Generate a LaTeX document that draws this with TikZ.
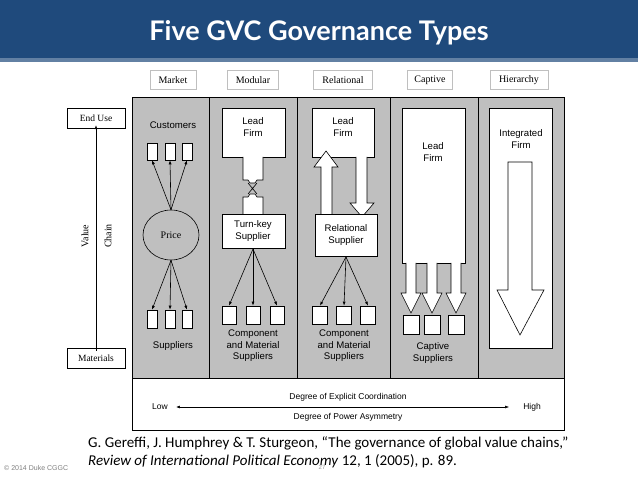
\documentclass[tikz,border=0pt]{standalone}
\usepackage{fontspec}
\setmainfont{Liberation Sans}
\newfontfamily\seriff{Liberation Serif}
\newfontfamily\titlef{Lato}
\newfontfamily\calib{Carlito}
\usetikzlibrary{arrows.meta,shapes.geometric}
\definecolor{tblue}{HTML}{1F4A7C}
\definecolor{panel}{HTML}{BFBFBF}
\begin{document}
\begin{tikzpicture}[x=1pt,y=-1pt,
  txt/.style={font=\fontsize{9.6}{11.5}\selectfont,align=center,inner sep=0pt},
  hdr/.style={draw=black!25,fill=white,font=\seriff\fontsize{10}{11}\selectfont,minimum height=19pt,inner sep=2pt},
  wbox/.style={draw=black,fill=white,line width=0.6pt},
  sq/.style={draw=black,fill=white,line width=0.6pt},
  blk/.style={draw=black,fill=white,line width=0.6pt},
  arr/.style={-{Latex[length=4pt,width=3pt]},line width=0.6pt}]
\useasboundingbox (0,0) rectangle (638,478);
\fill[white] (0,0) rectangle (638,478);
\fill[tblue] (0,0) rectangle (638,62);
\fill[tblue!70!white] (0,58) rectangle (638,62);
\node[text=white,font=\titlef\bfseries\fontsize{27}{29}\selectfont] (title) at (319,33) {Five GVC Governance Types};
% headers
\node[hdr,minimum width=46pt] (h1) at (173,80) {Market};
\node[hdr,minimum width=51pt] (h2) at (253,80) {Modular};
\node[hdr,minimum width=59pt] (h3) at (343,80) {Relational};
\node[hdr,minimum width=45pt] (h4) at (430,80) {Captive};
\node[hdr,minimum width=58pt] (h5) at (519,80) {Hierarchy};
% main panels
\draw[fill=panel,line width=0.7pt] (132,97) rectangle (564,378);
\draw[fill=white,line width=0.7pt] (132,378) rectangle (564,430);
\foreach \x in {209,297,390,478} \draw[line width=0.7pt] (\x,97) -- (\x,378);
% value chain
\node[draw,font=\seriff\fontsize{9.5}{10}\selectfont,minimum width=58pt,minimum height=20pt,inner sep=1pt] (end) at (96,118) {End Use};
\node[draw,font=\seriff\fontsize{9.5}{10}\selectfont,minimum width=58pt,minimum height=20pt,inner sep=1pt] (mat) at (96,358) {Materials};
\draw[arr] ([yshift=-3pt]mat.north) -- ([yshift=3pt]end.south);
\node[font=\seriff\fontsize{10}{11}\selectfont,rotate=90] (val) at (85,236) {Value};
\node[font=\seriff\fontsize{10}{11}\selectfont,rotate=90] (cha) at (108,236) {Chain};
% Market
\node[txt] (cust) at (173,125) {Customers};
\foreach \i/\x in {1/152,2/170,3/187} {
  \node[sq,minimum width=10pt,minimum height=17pt,inner sep=0] (c\i) at (\x,151.5) {};
  \node[sq,minimum width=10pt,minimum height=18pt,inner sep=0] (s\i) at (\x,319) {};}
\node[draw,fill=panel,ellipse,line width=0.6pt,minimum width=56pt,minimum height=50pt,inner sep=0,font=\seriff\fontsize{10}{11}\selectfont] (price) at (171,235) {Price};
\foreach \i in {1,2,3} {\draw[arr] (price.north) -- (c\i.south); \draw[arr] (price.south) -- (s\i.north);}
\node[txt] (sup) at (173,346) {Suppliers};
% Modular
\draw[wbox] (222,108) rectangle (285,157); \node[txt] (lf1) at (253,127) {Lead\\Firm};
\draw[wbox] (222,214) rectangle (285,248); \node[txt] (tk) at (253,231) {Turn-key\\Supplier};
\draw[blk] (243,157) -- (243,180) -- (248,180) -- (250,183) -- (255,183) -- (257,180) -- (263,180) -- (263,157);
\draw[blk] (243,214) -- (243,197) -- (248,197) -- (250,194) -- (255,194) -- (257,197) -- (263,197) -- (263,214);
\draw[line width=0.6pt] (248,183) -- (257,194) (257,183) -- (248,194);
\foreach \i/\x in {1/229,2/253,3/277} {
  \node[sq,minimum width=14pt,minimum height=18pt,inner sep=0] (m\i) at (\x,315) {};
  \draw[arr] (253,249) -- (m\i.north);}
\node[txt] (cm1) at (253,346) {Component\\and Material\\Suppliers};
% Relational
\draw[wbox] (312,108) rectangle (374,157); \node[txt] (lf2) at (343,127) {Lead\\Firm};
\draw[blk] (321,214) -- (321,167) -- (314,167) -- (326,151) -- (338,167) -- (332,167) -- (332,214);
\draw[blk] (356,157) -- (356,203) -- (350,203) -- (362,217) -- (374,203) -- (367,203) -- (367,157);
\draw[wbox] (315,214) rectangle (377,256); \node[txt] (rs) at (346,235) {Relational\\Supplier};
\foreach \i/\x in {1/320,2/344,3/368} {
  \node[sq,minimum width=15pt,minimum height=18pt,inner sep=0] (r\i) at (\x,315) {};
  \draw[arr] (346,257) -- (r\i.north);}
\node[txt] (cm2) at (344,346) {Component\\and Material\\Suppliers};
% Captive
\draw[wbox] (402,108) rectangle (465,263); \node[txt] (lf3) at (433,152) {Lead\\Firm};
\foreach \i/\x in {1/411,2/432,3/456} {
  \draw[blk] (\x-5,263) -- (\x-5,293) -- (\x-10,293) -- (\x,313) -- (\x+10,293) -- (\x+5,293) -- (\x+5,263);
  \node[sq,minimum width=16pt,minimum height=19pt,inner sep=0] (k\i) at (\x,325) {};}
\node[txt] (cs) at (433,353) {Captive\\Suppliers};
% Hierarchy
\draw[wbox] (489,108) rectangle (552,348); \node[txt] (ifm) at (521,139) {Integrated\\Firm};
\draw[blk] (508,162) -- (508,290) -- (497,290) -- (520,335) -- (544,290) -- (532,290) -- (532,162) -- cycle;
% bottom
\node[txt,font=\fontsize{8.5}{9}\selectfont] (dec) at (348,397) {Degree of Explicit Coordination};
\node[txt,font=\fontsize{8.5}{9}\selectfont] (dpa) at (348,417) {Degree of Power Asymmetry};
\node[txt,font=\fontsize{8.5}{9}\selectfont] (low) at (160,407) {Low};
\node[txt,font=\fontsize{8.5}{9}\selectfont] (high) at (532,407) {High};
\draw[{Latex[length=4pt,width=3pt]}-{Latex[length=4pt,width=3pt]},line width=0.6pt] ([xshift=8pt]low.east) -- ([xshift=-14pt]high.west);
% citation
\node[anchor=west,font=\calib\fontsize{15}{18}\selectfont,inner sep=0] (cit1) at (88,443) {G. Gereffi, J. Humphrey \& T. Sturgeon, “The governance of global value chains,”};
\node[anchor=west,font=\calib\fontsize{15}{18}\selectfont,inner sep=0] (cit2) at (88,461) {\textit{Review of International Political Economy} 12, 1 (2005), p. 89.};
\node[anchor=west,font=\fontsize{7}{8}\selectfont,text=black!50,inner sep=0] (copy) at (4,468) {© 2014 Duke CGGC};
\node[font=\fontsize{6}{7}\selectfont,text=black!40,inner sep=0] (pg) at (322,467) {27};
\end{tikzpicture}
\end{document}
